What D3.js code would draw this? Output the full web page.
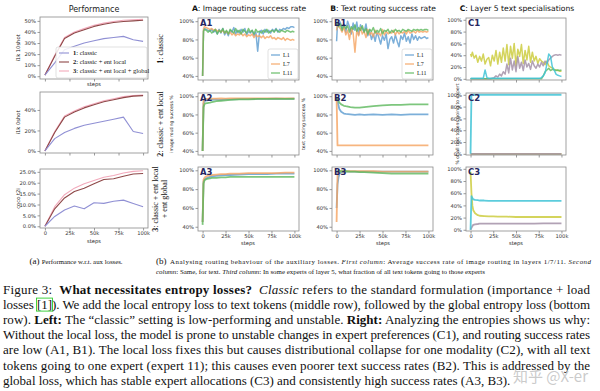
<!DOCTYPE html>
<html><head><meta charset="utf-8">
<script src="https://cdn.jsdelivr.net/npm/d3@7/dist/d3.min.js"></script>
<style>body{margin:0;background:#fff}svg{display:block}</style>
</head><body><svg id="c" width="600" height="391"></svg>
<script>
// ---------------- DATA ----------------
const perfSteps = [0,10,20,30,40,50,60,70,80,90,100];           // k steps
const perfSeriesNames = ["classic", "classic + ent local", "classic + ent local + global"];
const perf10shotClassic = [1,12,24,27,30,32,34,35,36,33,31.5];
const perf10shotLocal   = [1,18,34,39,42,45,47,48.5,49.5,50,50.5];
const perf10shotGlobal  = [1,19,35,40,43,46,48,49.5,50.5,51,51.5];
const perf0shotClassic  = [0,12,18,22,25,27,29,31,33,19,17];
const perf0shotLocal    = [0,18,33,38,42,45,48,50,52,53.5,54];
const perf0shotGlobal   = [0,19,34,39,43,46,49,51,53,54,54.5];
const perfCocoClassic   = [0,4.5,7.5,9.3,8,10.8,10.5,11.5,12,10.5,9];
const perfCocoLocal     = [0,8,13,16,17.5,19.5,21.5,21.8,23,24,24.2];
const perfCocoGlobal    = [0,9,14.5,17.5,19.5,21,22.5,23.3,24.5,25.2,25.5];

const noisySteps = [0,1,2,4,6,8,10,12,14,16,18,20,22,24,26,28,30,32,34,36,38,40,42,44,46,48,50,52,54,56,58,60,62,64,66,68,70,72,74,76,78,80,82,84,86,88,90,92,94,96,98,100];
const smoothSteps = [0,1,2,3,5,8,10,15,20,25,30,40,50,60,70,80,90,100];
const layerNames = ["L1","L7","L11"];

const a1L1  = [40,90,92,91,90,89,91,88,90,86,91,87,92,85,89,84,90,88,93,86,90,87,91,88,92,85,89,87,90,84,88,67,88,90,86,91,88,90,87,91,89,92,88,91,90,92,91,93,92,94,94,93];
const a1L7  = [40,92,94,93,92,91,92,90,91,89,90,88,90,87,89,86,88,85,87,84,86,85,87,84,86,83,85,84,86,82,85,83,84,82,84,81,83,82,84,81,82,80,82,81,80,82,79,81,80,79,80,79];
const a1L11 = [40,89,91,90,88,90,87,89,91,86,90,88,92,87,90,86,91,89,87,92,88,90,86,91,89,87,92,88,90,86,91,88,89,87,90,88,91,87,89,90,88,91,89,88,90,89,88,90,89,88,89,88];
const a2L1  = [40,92,94,95,95.5,96,96,96.5,96,96.5,96.5,96.8,97,97,97,97.2,97,97.2];
const a2L7  = [40,95,96.5,97,97,97.2,97.3,97.3,97.5,97.4,97.5,97.5,97.6,97.5,97.6,97.6,97.6,97.6];
const a2L11 = [40,88,91,92,92.5,93,93.5,94.5,95,95.5,96,96.5,96.5,97,97,97,97,97];
const a3L1  = [45,88,90,91,92,93,93.5,94,94.5,95,95,95.5,96,96,96,96.5,96.5,96.5];
const a3L7  = [45,90,92,93,94,94.5,95,95.5,96,96,96.5,96.5,97,97,97,97,97.5,97.5];
const a3L11 = [42,86,89,90,91,91.5,92,92,92.5,92.5,93,93,93,93,93,93,93,93];

const b1L1  = [78,98,96,99,92,97,88,100,94,86,98,90,99,85,96,92,88,97,84,90,80,86,78,88,82,75,84,79,86,70,80,83,76,85,78,72,84,80,87,78,83,76,86,80,84,79,83,81,82,83,81,82];
const b1L7  = [90,97,95,92,88,94,85,90,80,92,87,66,90,84,93,86,89,82,91,85,88,83,90,86,87,84,91,85,89,86,88,87,90,85,89,86,88,87,89,86,90,87,88,89,87,90,88,89,88,89,88,89];
const b1L11 = [95,99,94,97,90,96,92,95,88,94,91,96,89,93,90,95,88,92,86,91,89,93,87,90,88,92,86,90,89,91,87,90,88,91,89,90,88,91,90,89,91,90,89,91,90,91,90,91,90,91,91,90];
const b2L1  = [99,95,90,86,83,81,80.5,80,79.5,80,79.5,80,79.5,80,79.5,80,80,80];
const b2L7  = [98,46,46,46,46,46,46,46,46,46,46,46,46,46,46,46,46,46];
const b2L11 = [99,97,95,93,91,89.5,89,88,87.5,87.5,88,89,90,90.5,90.5,91,91,91];
const b3L1  = [60,85,92,96,98,98.5,98.5,98.5,98.5,98.5,98.5,98.5,98.5,98.5,98.5,98.5,98.5,98.5];
const b3L7  = [45,95,98,99,99,99,99,99,99,99,99,99,98.5,98.5,98.5,98.5,98.5,98.5];
const b3L11 = [98,99,99,99,99,99,99,98.5,98.5,98,98,97.5,97,96.5,96.5,96.5,96.5,96.5];

const c1Olive = [42,38,45,35,40,28,38,30,42,25,33,36,22,40,30,48,25,45,28,52,30,58,24,55,35,60,22,50,38,58,26,48,32,55,28,45,30,38,26,34,30,28,24,30,22,20,18,16,15,14,13,13];
const c1Cyan  = [0,1,1,1,1,1,1,1,1,15,2,1,1,1,1,1,1,1,1,1,1,1,1,1,1,1,1,1,1,1,1,1,1,1,1,1,1,1,1,1,2,5,10,25,42,38,20,15,8,6,5,4];
const c1Gray  = [0,0,0,0,0,0,0,0,0,0,0,0,0,1,2,5,3,8,5,12,8,25,10,35,15,30,12,38,18,28,14,32,20,26,16,30,22,18,25,20,28,22,30,26,32,35,38,40,41,40,41,40];
const c1Green = [0,0,0,0,0,0,0,0,0,0,0,0,0,0,0,0,0,0,0,0,0,0,0,0,0,0,0,0,0,0,0,0,0,0,0,0,0,0,0,0,0,5,12,15,18,14,16,15,14,15,14,15];
const c2Cyan  = [0,100,100,100,100,100,100,100,100,100,100,100,100,100,100,100,100,100];
const c2Olive = [0,0,0,0,0,0,0,0,0,0,0,0,0,0,0,0,0,0];
const c2Gray  = [0,0,0,0,0,0,0,0,0,0,0,0,0,0,0,0,0,0];
const c3Olive = [95,60,40,32,27,24,23,22.5,22,22,21.5,21.5,21,21,21,21,21,21];
const c3Cyan  = [0,55,52,50,49,48.5,48,48,47.5,47.5,47.5,47.5,47.5,47.5,47.5,47.5,47.5,47.5];
const c3Gray  = [0,3,6,8,9,9.5,10,10,10,10,10,10,10,10,10,10.5,10.5,10.5];

const stepTicks = [0,25,50,75,100];
const perfTicks10 = [0,10,20,30,40,50];
const perfTicks0 = [0,20,40];
const perfTicksCoco = [0,5,10,15,20,25];
const rateTicks = [40,60,80,100];
const fracTicks = [0,20,40,60,80,100];

// ---------------- STYLE ----------------
const perfColors = ["#9090d4","#8e4848","#f2a9bb"];
const layerColors = ["#5b9bd0","#f5a35f","#5cb85c"];
const cOlive = "#cccc40", cCyan = "#3fc3d6", cGray = "#a592a8", cGreen = "#66bb66";
const svg = d3.select("#c");
const sans = "DejaVu Sans, sans-serif", serif = "Liberation Serif, Times New Roman, serif";
let clipId = 0;
const fmtK = d => d === 0 ? "0" : d + "k";

function panel(box, yDom, yTicks, yFmt, showXLabels) {
  const x = d3.scaleLinear().domain([-5, 105]).range([box.x0, box.x1]);
  const y = d3.scaleLinear().domain(yDom).range([box.y1, box.y0]);
  const g = svg.append("g");
  const ax = g.append("g").attr("transform", `translate(0,${box.y1})`)
    .call(d3.axisBottom(x).tickValues(stepTicks).tickSize(2.5).tickPadding(1).tickFormat(showXLabels ? fmtK : ""));
  const ay = g.append("g").attr("transform", `translate(${box.x0},0)`)
    .call(d3.axisLeft(y).tickValues(yTicks).tickSize(2.5).tickPadding(1.5).tickFormat(yFmt));
  [ax, ay].forEach(a => {
    a.select(".domain").remove();
    a.selectAll("line").attr("stroke", "#555").attr("stroke-width", 0.6);
    a.selectAll("text").attr("font-family", sans).attr("font-size", 5.2).attr("fill", "#333");
  });
  const id = "clip" + (clipId++);
  g.append("clipPath").attr("id", id).append("rect")
    .attr("x", box.x0).attr("y", box.y0).attr("width", box.x1 - box.x0).attr("height", box.y1 - box.y0);
  const plot = g.append("g").attr("clip-path", `url(#${id})`);
  g.append("rect").attr("x", box.x0).attr("y", box.y0).attr("width", box.x1 - box.x0).attr("height", box.y1 - box.y0)
    .attr("fill", "none").attr("stroke", "#8a8a8a").attr("stroke-width", 0.8);
  return {x, y, g, plot};
}
function line(p, steps, vals, color, w, op) {
  const gen = d3.line().x((d, i) => p.x(steps[i])).y(d => p.y(d));
  p.plot.append("path").attr("d", gen(vals)).attr("fill", "none").attr("stroke", color)
    .attr("stroke-width", w).attr("stroke-opacity", op).attr("stroke-linejoin", "round");
}
function txt(x, y, s, size, opts = {}) {
  const t = svg.append("text").attr("x", x).attr("y", y).attr("font-size", size)
    .attr("font-family", opts.family || sans).attr("fill", opts.fill || "#222")
    .attr("text-anchor", opts.anchor || "middle");
  if (opts.rotate) t.attr("transform", `rotate(-90,${x},${y})`);
  if (opts.weight) t.attr("font-weight", opts.weight);
  if (opts.style) t.attr("font-style", opts.style);
  t.text(s);
  return t;
}
function rich(x, y, parts, size, opts = {}) {
  const t = svg.append("text").attr("x", x).attr("y", y).attr("font-size", size)
    .attr("font-family", opts.family || serif).attr("fill", "#111")
    .attr("text-anchor", opts.anchor || "start").style("white-space", "pre");
  if (opts.rotate) t.attr("transform", `rotate(-90,${x},${y})`);
  if (opts.len) t.attr("textLength", opts.len).attr("lengthAdjust", "spacing");
  parts.forEach(p => {
    const s = t.append("tspan").text(p.t);
    if (p.b) s.attr("font-weight", "bold");
    if (p.i) s.attr("font-style", "italic");
    if (p.size) s.attr("font-size", p.size);
    if (p.link) s.attr("class", "lnk");
  });
  return t;
}

// ---------------- LEFT: PERFORMANCE ----------------
const L = {x0: 40, x1: 148};
const pRows = [
  {y0: 17, y1: 79, dom: [-2.5, 53.5], ticks: perfTicks10, fmt: d => d + "%", data: [perf10shotClassic, perf10shotLocal, perf10shotGlobal], lab: "i1k 10shot"},
  {y0: 92, y1: 153, dom: [-2, 57.5], ticks: perfTicks0, fmt: d => d + "%", data: [perf0shotClassic, perf0shotLocal, perf0shotGlobal], lab: "i1k 0shot"},
  {y0: 169, y1: 228, dom: [-0.8, 26.3], ticks: perfTicksCoco, fmt: d => d.toFixed(1) + "%", data: [perfCocoClassic, perfCocoLocal, perfCocoGlobal], lab: "coco t2i"}
];
pRows.forEach((r, ri) => {
  const p = panel({x0: L.x0, x1: L.x1, y0: r.y0, y1: r.y1}, r.dom, r.ticks, r.fmt, ri === 2);
  [2, 1, 0].forEach(k => line(p, perfSteps, r.data[k], perfColors[k], 1.1, 1));
  txt(20, (r.y0 + r.y1) / 2, r.lab, 5.2, {rotate: true});
});
txt(94, 12, "Performance", 8);
txt(94, 86, "steps", 5.2);
txt(94, 243, "steps", 5.2);
// legend
svg.append("rect").attr("x", 56).attr("y", 47).attr("width", 91).attr("height", 31).attr("rx", 2)
  .attr("fill", "#fff").attr("fill-opacity", 0.85).attr("stroke", "#ccc").attr("stroke-width", 0.6);
perfSeriesNames.forEach((n, i) => {
  const yy = 53 + i * 9;
  svg.append("line").attr("x1", 59).attr("x2", 69).attr("y1", yy).attr("y2", yy)
    .attr("stroke", perfColors[i]).attr("stroke-width", 1.1);
  rich(73, yy + 2.2, [{t: String(i + 1), b: 1}, {t: ": " + n}], 6.5);
});
// (a)
rich(76, 264, [{t: "(a) "}, {t: "Performance w.r.t. aux losses.", size: 6.8}], 9, {anchor: "middle"});

// ---------------- MIDDLE / RIGHT ----------------
const cols = [{x0: 198, x1: 299}, {x0: 332, x1: 433}, {x0: 466, x1: 566}];
const rows = [{y0: 18, y1: 80}, {y0: 93, y1: 155}, {y0: 167, y1: 231}];
const rateDom = [35.5, 103.5], fracDom = [-2, 103];
const pct = d => d + "%";
const aData = [[a1L1, a1L7, a1L11], [a2L1, a2L7, a2L11], [a3L1, a3L7, a3L11]];
const bData = [[b1L1, b1L7, b1L11], [b2L1, b2L7, b2L11], [b3L1, b3L7, b3L11]];
[aData, bData].forEach((colData, ci) => {
  colData.forEach((rowData, ri) => {
    const box = {x0: cols[ci].x0, x1: cols[ci].x1, y0: rows[ri].y0, y1: rows[ri].y1};
    const p = panel(box, rateDom, rateTicks, pct, ri === 2);
    const steps = ri === 0 ? noisySteps : smoothSteps;
    [0, 1, 2].forEach(k => line(p, steps, rowData[k], layerColors[k], ri === 0 ? 1.5 : 1.8, 0.8));
    txt(box.x0 + 2, box.y0 + 8, (ci === 0 ? "A" : "B") + (ri + 1), 8.5, {anchor: "start", weight: "bold", fill: "#262660"});
    if (ri === 0) {
      const lx = box.x1 - 31, ly = box.y0 + 31;
      svg.append("rect").attr("x", lx).attr("y", ly).attr("width", 30).attr("height", 30).attr("rx", 2)
        .attr("fill", "#fff").attr("fill-opacity", 0.85).attr("stroke", "#ccc").attr("stroke-width", 0.6);
      layerNames.forEach((n, i) => {
        const yy = ly + 6 + i * 9;
        svg.append("line").attr("x1", lx + 3).attr("x2", lx + 12).attr("y1", yy).attr("y2", yy)
          .attr("stroke", layerColors[i]).attr("stroke-width", 1.1);
        txt(lx + 15, yy + 2, n, 6, {anchor: "start", family: serif});
      });
    }
  });
});
const cData = [
  {steps: noisySteps, series: [[c1Olive, cOlive], [c1Gray, cGray], [c1Green, cGreen], [c1Cyan, cCyan]]},
  {steps: smoothSteps, series: [[c2Olive, cOlive], [c2Gray, cGray], [c2Cyan, cCyan]]},
  {steps: smoothSteps, series: [[c3Olive, cOlive], [c3Gray, cGray], [c3Cyan, cCyan]]}
];
cData.forEach((r, ri) => {
  const box = {x0: cols[2].x0, x1: cols[2].x1, y0: rows[ri].y0, y1: rows[ri].y1};
  const p = panel(box, fracDom, fracTicks, pct, ri === 2);
  r.series.forEach(s => line(p, r.steps, s[0], s[1], ri === 0 ? 1.5 : 1.8, 0.85));
  txt(box.x0 + 2, box.y0 + 8, "C" + (ri + 1), 8.5, {anchor: "start", weight: "bold", fill: "#262660"});
});

// titles
rich(249, 11, [{t: "A", b: 1}, {t: ": Image routing success rate"}], 7.6, {family: sans, anchor: "middle"});
rich(383, 11, [{t: "B", b: 1}, {t: ": Text routing success rate"}], 7.6, {family: sans, anchor: "middle"});
rich(517, 11, [{t: "C", b: 1}, {t: ": Layer 5 text specialisations"}], 7.6, {family: sans, anchor: "middle"});
// steps labels
[248, 383, 516].forEach(cx => txt(cx, 245, "steps", 5.2));
// row labels
rich(163, 49, [{t: "1", b: 1}, {t: ": classic"}], 8, {rotate: true, anchor: "middle"});
rich(163, 124, [{t: "2", b: 1}, {t: ": classic + ent local"}], 8, {rotate: true, anchor: "middle"});
rich(158, 199, [{t: "3", b: 1}, {t: ": classic + ent local"}], 8, {rotate: true, anchor: "middle"});
rich(167, 199, [{t: "+ ent global"}], 8, {rotate: true, anchor: "middle"});
txt(173, 124, "image routing success %", 4.6, {rotate: true});
txt(305, 124, "text routing success %", 4.6, {rotate: true});
txt(459, 124, "% of all text tokens going to expert", 4.6, {rotate: true});

// (b) caption
rich(156, 264, [{t: "(b)"}], 9);
rich(170, 264, [{t: "Analysing routing behaviour of the auxiliary losses. "}, {t: "First column", i: 1}, {t: ": Average success rate of image routing in layers 1/7/11. "}, {t: "Second", i: 1}], 6.9, {len: 421});
rich(156, 274, [{t: "column", i: 1}, {t: ": Same, for text. "}, {t: "Third column", i: 1}, {t: ": In some experts of layer 5, what fraction of all text tokens going to those experts"}], 6.9);

// ---------------- MAIN CAPTION ----------------
const capLines = [
  [{t: "Figure 3:  "}, {t: "What necessitates entropy losses?", b: 1}, {t: "  "}, {t: "Classic", i: 1}, {t: " refers to the standard formulation (importance + load"}],
  [{t: "losses "}, {t: "[1]", link: 1}, {t: "). We add the local entropy loss to text tokens (middle row), followed by the global entropy loss (bottom"}],
  [{t: "row). "}, {t: "Left:", b: 1}, {t: " The “classic” setting is low-performing and unstable. "}, {t: "Right:", b: 1}, {t: " Analyzing the entropies shows us why:"}],
  [{t: "Without the local loss, the model is prone to unstable changes in expert preferences (C1), and routing success rates"}],
  [{t: "are low (A1, B1). The local loss fixes this but causes distributional collapse for one modality (C2), with all text"}],
  [{t: "tokens going to one expert (expert 11); this causes even poorer text success rates (B2). This is addressed by the"}],
  [{t: "global loss, which has stable expert allocations (C3) and consistently high success rates (A3, B3)."}]
];
capLines.forEach((parts, i) => {
  rich(3, 294 + i * 15.1, parts, 13, i < 6 ? {len: 587} : {});
});
// link box around [1]
const ln = svg.select(".lnk").node();
if (ln) {
  try {
    const bb = ln.getBBox();
    svg.append("rect").attr("x", bb.x - 0.5).attr("y", bb.y + 1).attr("width", bb.width + 1).attr("height", bb.height - 2)
      .attr("fill", "none").attr("stroke", "#2ecc2e").attr("stroke-width", 0.9);
  } catch (e) {}
}
// watermark
svg.append("text").attr("x", 588).attr("y", 382).attr("text-anchor", "end")
  .attr("font-family", "Noto Sans CJK SC, sans-serif").attr("font-size", 15)
  .attr("fill", "#bdbdbd").attr("fill-opacity", 0.8).text("知乎 @X-er");
</script></body></html>
